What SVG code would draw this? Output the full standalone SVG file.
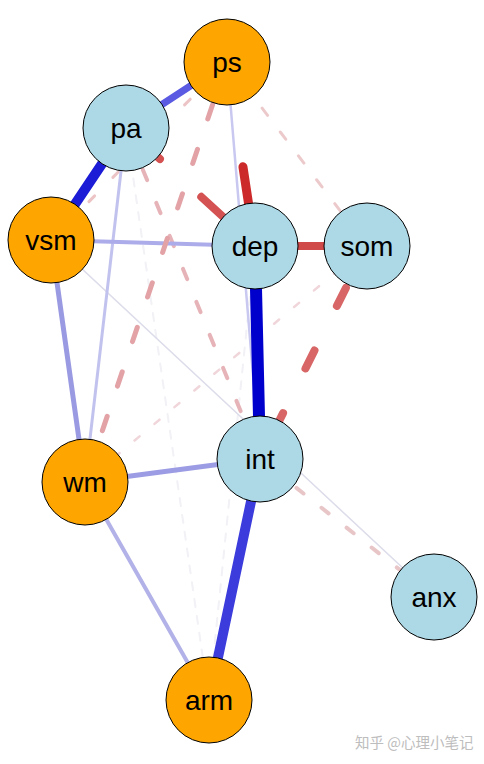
<svg xmlns="http://www.w3.org/2000/svg" width="484" height="764" viewBox="0 0 484 764">
<style>
.n circle{stroke:#000;stroke-width:1}
.b circle{fill:#add8e6}
.o circle{fill:#ffa500}
.n text{font-family:"Liberation Sans",Arial,sans-serif;font-size:28px;fill:#000;text-anchor:middle}
#edges line{fill:none;stroke-linecap:round}
.wm{font-family:"Noto Sans CJK SC","Noto Sans",sans-serif;font-size:14.5px;fill:#bdbdbd}
</style>
<rect width="484" height="764" fill="#fff"/>
<g id="edges">
  <line x1="126" y1="128" x2="209" y2="700" stroke="#f1f1f6" stroke-width="2" stroke-dasharray="8 9"/>
  <line x1="255" y1="246" x2="209" y2="700" stroke="#f1f1f6" stroke-width="2" stroke-dasharray="8 9"/>
  <line x1="51" y1="240" x2="434" y2="597" stroke="#dcdcea" stroke-width="1.5"/>
  <line x1="367" y1="246" x2="85" y2="482" stroke="#f0d6da" stroke-width="2.5" stroke-dasharray="6.5 19.5" stroke-dashoffset="15.4"/>
  <line x1="227" y1="62" x2="367" y2="246" stroke="#eccacc" stroke-width="3" stroke-dasharray="9 21" stroke-dashoffset="2"/>
  <line x1="51" y1="240" x2="227" y2="62" stroke="#ecc4c6" stroke-width="3" stroke-dasharray="8 26" stroke-dashoffset="14"/>
  <line x1="227" y1="62" x2="260" y2="459" stroke="#c8c8f0" stroke-width="2.5"/>
  <line x1="260" y1="459" x2="434" y2="597" stroke="#e8c6c8" stroke-width="4" stroke-dasharray="9 23" stroke-dashoffset="17.5"/>
  <line x1="126" y1="128" x2="260" y2="459" stroke="#e6b4b8" stroke-width="4" stroke-dasharray="11 24.6" stroke-dashoffset="26"/>
  <line x1="126" y1="128" x2="85" y2="482" stroke="#c2c2ee" stroke-width="3"/>
  <line x1="51" y1="240" x2="255" y2="246" stroke="#acacea" stroke-width="4"/>
  <line x1="227" y1="62" x2="85" y2="482" stroke="#e2a2a6" stroke-width="5" stroke-dasharray="15 32" stroke-dashoffset="1.9"/>
  <line x1="85" y1="482" x2="209" y2="700" stroke="#b2b2e8" stroke-width="4"/>
  <line x1="51" y1="240" x2="85" y2="482" stroke="#9a9ae2" stroke-width="5"/>
  <line x1="85" y1="482" x2="260" y2="459" stroke="#9c9ce4" stroke-width="5"/>
  <line x1="367" y1="246" x2="260" y2="459" stroke="#d86666" stroke-width="8" stroke-dasharray="20 50" stroke-dashoffset="23"/>
  <line x1="227" y1="62" x2="126" y2="128" stroke="#5a5ae2" stroke-width="7"/>
  <line x1="126" y1="128" x2="255" y2="246" stroke="#d45252" stroke-width="8" stroke-dasharray="40 56" stroke-dashoffset="90"/>
  <line x1="255" y1="246" x2="367" y2="246" stroke="#d04a4a" stroke-width="8"/>
  <line x1="227" y1="62" x2="255" y2="246" stroke="#cc2a2a" stroke-width="9" stroke-dasharray="40 70" stroke-dashoffset="4"/>
  <line x1="260" y1="459" x2="209" y2="700" stroke="#3c3cdc" stroke-width="10"/>
  <line x1="126" y1="128" x2="51" y2="240" stroke="#1c1cd6" stroke-width="10"/>
  <line x1="255" y1="246" x2="260" y2="459" stroke="#0000cc" stroke-width="12"/>
</g>
<g id="ps" class="n o"><circle cx="227" cy="62" r="43"/><text x="227" y="72">ps</text></g>
<g id="pa" class="n b"><circle cx="126" cy="128" r="43"/><text x="126" y="138">pa</text></g>
<g id="vsm" class="n o"><circle cx="51" cy="240" r="43"/><text x="51" y="250">vsm</text></g>
<g id="dep" class="n b"><circle cx="255" cy="246" r="43"/><text x="255" y="256">dep</text></g>
<g id="som" class="n b"><circle cx="367" cy="246" r="43"/><text x="367" y="256">som</text></g>
<g id="int" class="n b"><circle cx="260" cy="459" r="43"/><text x="260" y="469">int</text></g>
<g id="wm" class="n o"><circle cx="85" cy="482" r="43"/><text x="85" y="492">wm</text></g>
<g id="anx" class="n b"><circle cx="434" cy="597" r="43"/><text x="434" y="607">anx</text></g>
<g id="arm" class="n o"><circle cx="209" cy="700" r="43"/><text x="209" y="710">arm</text></g>
<text class="wm" x="355" y="748">知乎 @心理小笔记</text>
</svg>
